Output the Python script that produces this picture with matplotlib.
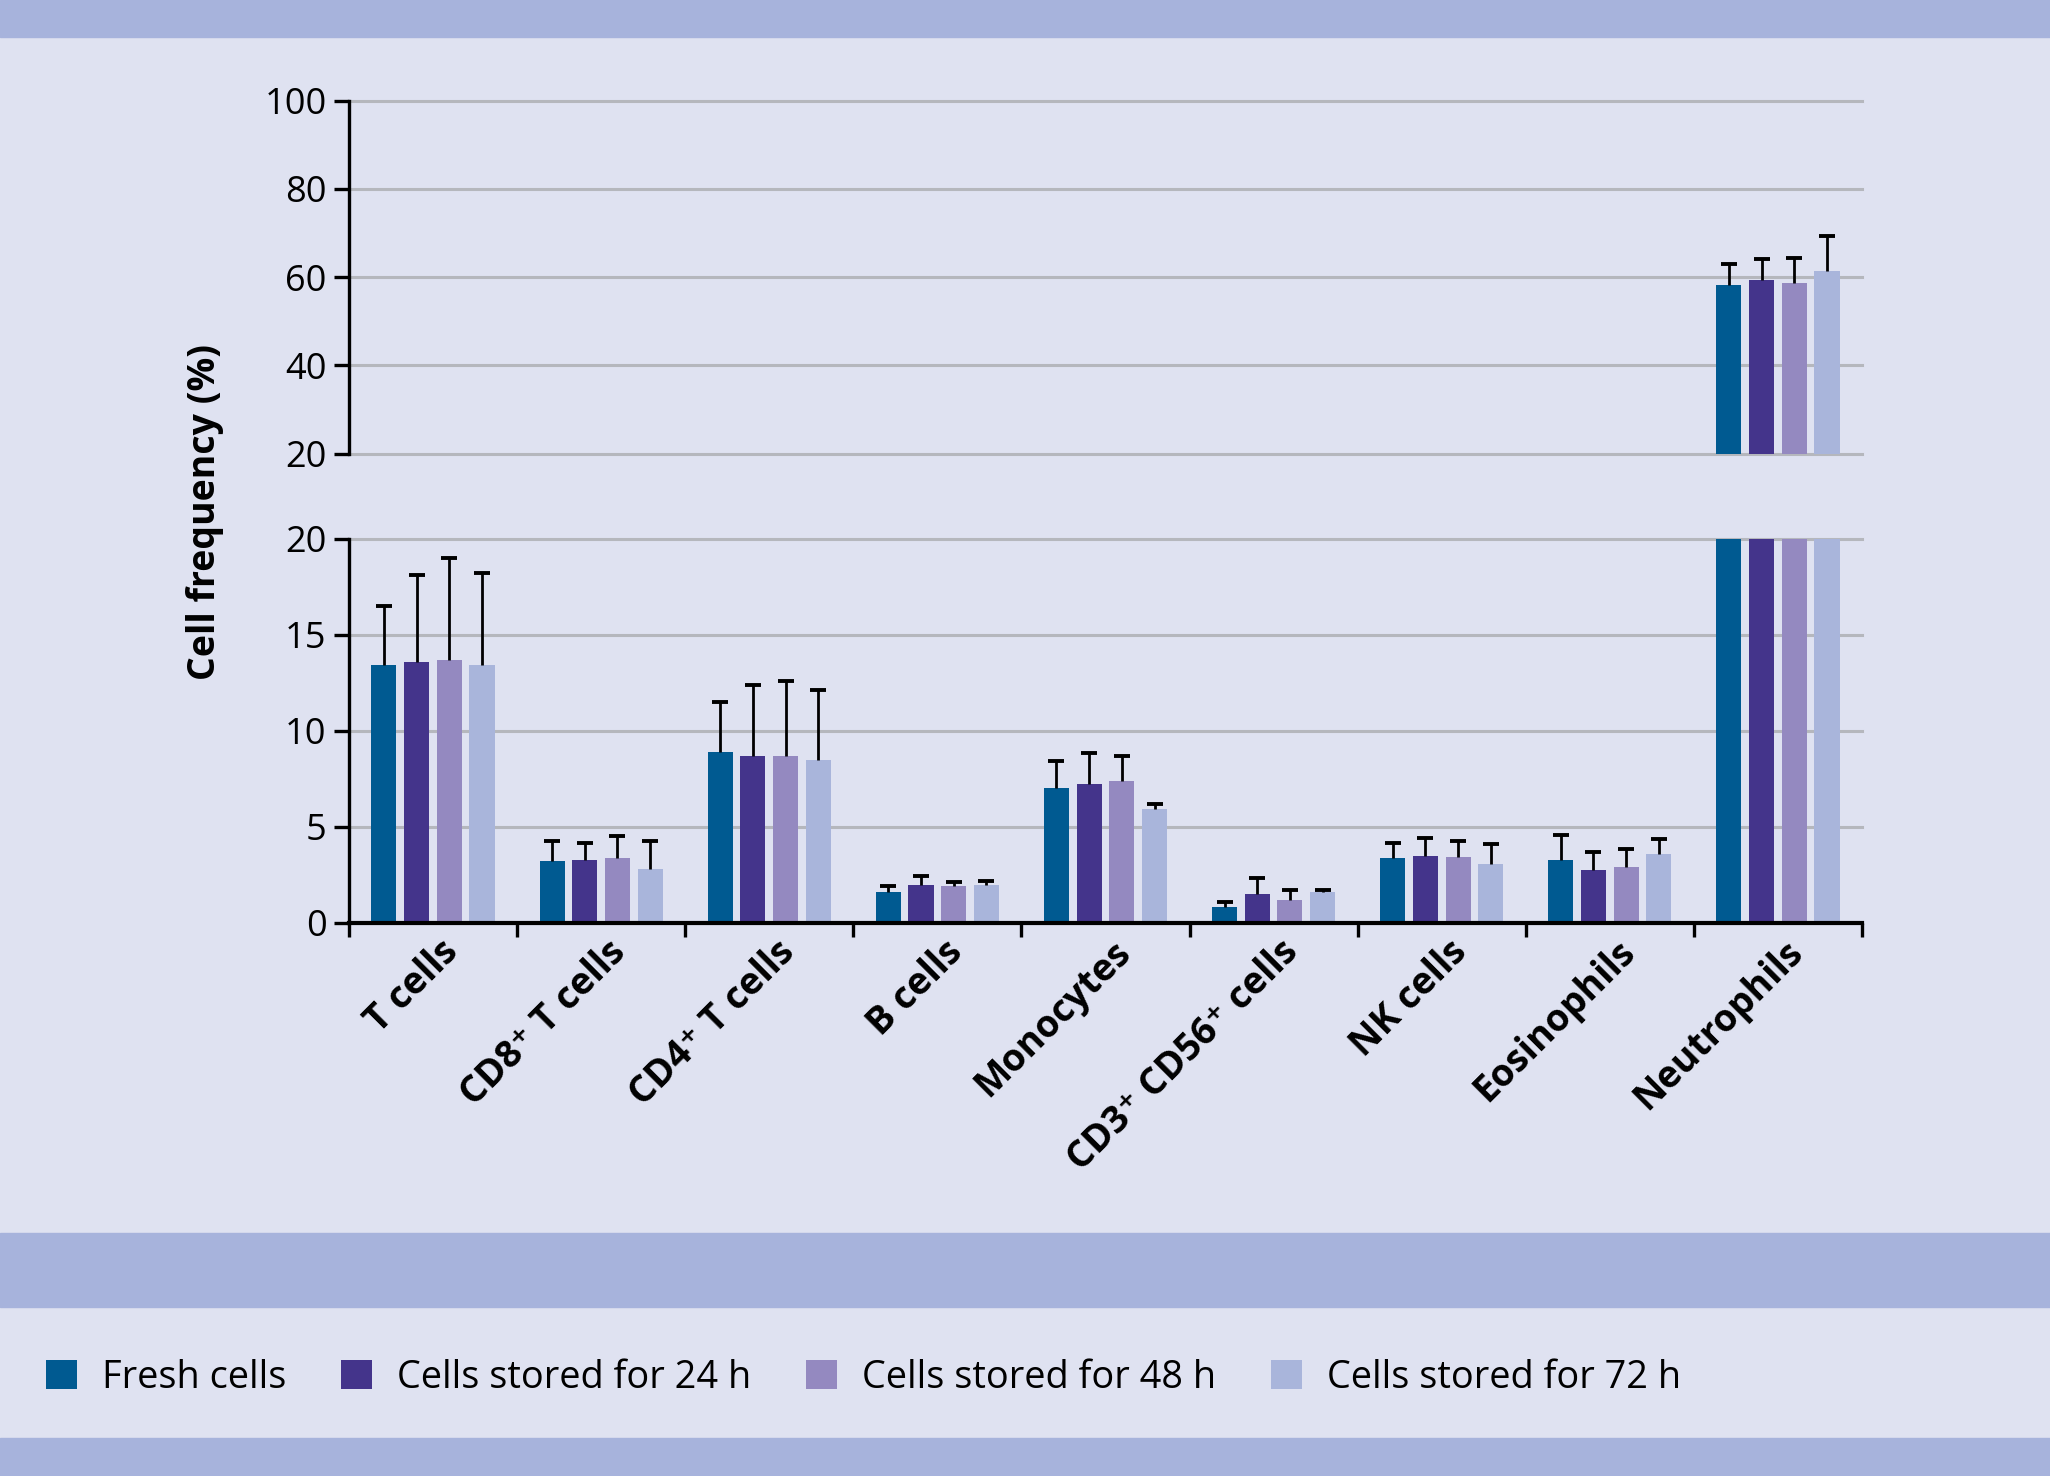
import numpy as np
import matplotlib
matplotlib.use("Agg")
import matplotlib.pyplot as plt
from matplotlib.patches import Rectangle
from matplotlib.transforms import ScaledTranslation

plt.rcParams['font.family'] = ['Open Sans', 'DejaVu Sans']

# data
categories = ['T cells', 'CD8⁺ T cells', 'CD4⁺ T cells', 'B cells', 'Monocytes',
              'CD3⁺ CD56⁺ cells', 'NK cells', 'Eosinophils', 'Neutrophils']
series = ['Fresh cells', 'Cells stored for 24 h', 'Cells stored for 48 h', 'Cells stored for 72 h']

fresh = [13.4, 3.2, 8.9, 1.6, 7.0, 0.85, 3.4, 3.3, 58.3]
h24 = [13.6, 3.3, 8.7, 2.0, 7.25, 1.5, 3.5, 2.75, 59.3]
h48 = [13.7, 3.4, 8.7, 1.9, 7.4, 1.2, 3.45, 2.9, 58.7]
h72 = [13.4, 2.8, 8.5, 2.0, 5.95, 1.6, 3.05, 3.6, 61.4]

fresh_err = [3.1, 1.05, 2.6, 0.33, 1.45, 0.23, 0.78, 1.3, 4.7]
h24_err = [4.5, 0.85, 3.7, 0.43, 1.57, 0.82, 0.92, 0.94, 4.9]
h48_err = [5.3, 1.15, 3.9, 0.24, 1.3, 0.54, 0.79, 0.96, 5.7]
h72_err = [4.8, 1.45, 3.6, 0.17, 0.24, 0.14, 1.07, 0.75, 7.9]

upper_ticks = [20, 40, 60, 80, 100]
lower_ticks = [0, 5, 10, 15, 20]

colors = ['#005a91', '#44348b', '#9489c0', '#a9b5db']
bg = '#dfe2f1'
band = '#a7b3dc'
grid_c = '#b5b7bd'

values = [fresh, h24, h48, h72]
errors = [fresh_err, h24_err, h48_err, h72_err]

fig = plt.figure(figsize=(20.5, 14.76), dpi=100, facecolor=bg)

# decorative bands
fig.patches.append(Rectangle((0, 0.975), 1, 0.025, transform=fig.transFigure, color=band, zorder=0))
fig.patches.append(Rectangle((0, 0.1145), 1, 0.0501, transform=fig.transFigure, color=band, zorder=0))
fig.patches.append(Rectangle((0, 0.0), 1, 0.0257, transform=fig.transFigure, color=band, zorder=0))

ax_top = fig.add_axes([0.1702, 0.6927, 0.7381, 0.2391])
ax_bot = fig.add_axes([0.1702, 0.3747, 0.7381, 0.2604])

x = np.arange(len(categories)) + 0.5
step = 0.1945
width = 0.149

handles = []
for ax in (ax_top, ax_bot):
    ax.set_facecolor('none')
    ax.set_axisbelow(True)
    for i in range(4):
        xs = x + (i - 1.5) * step
        b = ax.bar(xs, values[i], width, color=colors[i], label=series[i], zorder=2)
        if ax is ax_bot:
            handles.append(b)
        eb = ax.errorbar(xs, values[i], yerr=[np.zeros(len(categories)), errors[i]],
                         fmt='none', ecolor='black', elinewidth=2, capsize=6,
                         capthick=2.8, zorder=3)
        eb[1][0].set_visible(False)
    ax.set_xlim(0, len(categories))
    ax.grid(axis='y', color=grid_c, linewidth=2.2)
    ax.grid(axis='x', visible=False)
    for s in ('top', 'right'):
        ax.spines[s].set_visible(False)
    ax.spines['left'].set_linewidth(2.4)
    ax.tick_params(axis='y', length=11, width=2.4, pad=5, labelsize=26)

ax_top.set_ylim(20, 100)
ax_top.set_yticks(upper_ticks)
ax_top.spines['bottom'].set_visible(False)
ax_top.set_xticks([])

ax_bot.set_ylim(0, 20)
ax_bot.set_yticks(lower_ticks)
ax_bot.spines['bottom'].set_linewidth(3)
ax_bot.set_xticks(np.arange(len(categories) + 1))
ax_bot.set_xticklabels([])
ax_bot.tick_params(axis='x', length=10, width=2.4)

for ax in (ax_top, ax_bot):
    for gl in ax.get_ygridlines():
        gl.set_clip_on(False)

off = ScaledTranslation(0.06, -0.10, fig.dpi_scale_trans)
for xi, name in zip(x, categories):
    ax_bot.text(xi, 0, name, transform=ax_bot.get_xaxis_transform() + off,
                rotation=45, rotation_mode='anchor', ha='right', va='top',
                fontsize=27, fontweight='bold')

fig.text(0.1, 0.653, 'Cell frequency (%)', rotation=90, ha='center', va='center',
         fontsize=27, fontweight='bold')

fig.legend(handles=handles, labels=series, loc='center left',
           bbox_to_anchor=(0.0225, 0.0665), ncol=4, frameon=False, fontsize=27.3,
           handlelength=0.82, handleheight=0.82, handletextpad=0.65,
           columnspacing=1.45, borderpad=0, borderaxespad=0)

fig.savefig('out.png', dpi=100, facecolor=bg)
